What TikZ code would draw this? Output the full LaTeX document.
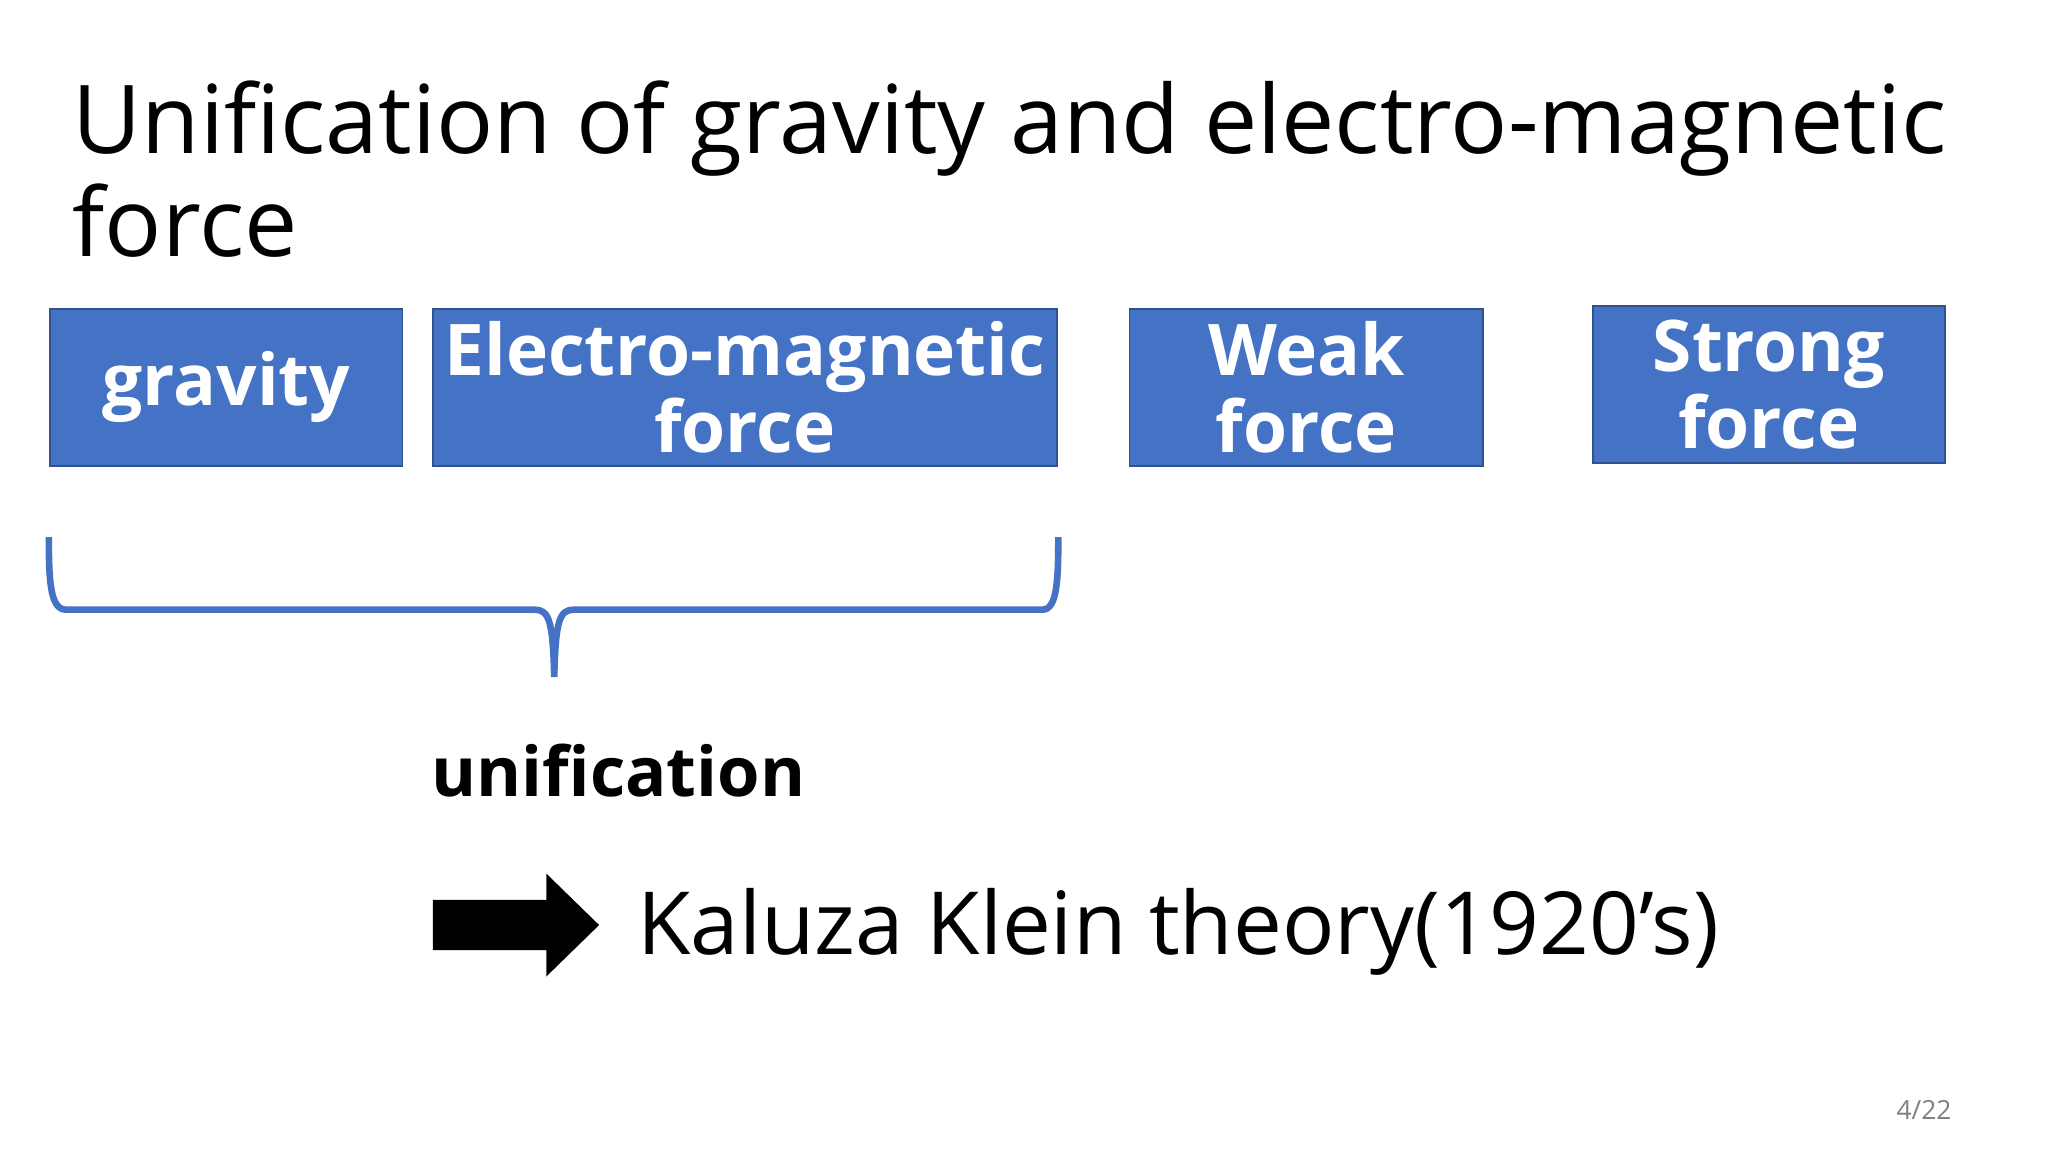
\documentclass[tikz,border=0pt]{standalone}
\usepackage{fontspec}
\setmainfont{Open Sans}
\definecolor{boxblue}{HTML}{4472C4}
\definecolor{boxedge}{HTML}{2F528F}
\begin{document}
\begin{tikzpicture}[x=0.5pt,y=-0.5pt,
  fbox/.style={draw=boxedge,line width=0.6pt,fill=boxblue,text=white,font=\fontsize{27}{29}\selectfont\bfseries,align=center,inner sep=0pt}]
\useasboundingbox[fill=white] (0,0) rectangle (1552,873);
\node[anchor=west,align=left,font=\fontsize{36}{39}\selectfont] (title) at (48,128) {Unification of gravity and electro-magnetic\\force};
\path[fbox] (38,234) rectangle (305,353) node[midway] (g) {gravity};
\path[fbox] (328,234) rectangle (801,353) node[midway] (em) {Electro-magnetic\\force};
\path[fbox] (856,234) rectangle (1124,353) node[midway] (w) {Weak\\force};
\path[fbox] (1207,232) rectangle (1474,351) node[midway] (s) {Strong\\force};
\draw[boxblue,line width=2.5pt] (37,407) .. controls (37,440) and (38,462) .. (50,462) -- (405,462)
  .. controls (416,462) and (419,470) .. (420,513)
  .. controls (421,470) and (424,462) .. (435,462) -- (790,462)
  .. controls (801,462) and (802,440) .. (802,407);
\node[anchor=west,font=\fontsize{26}{28}\selectfont\bfseries] (u) at (320,584) {unification};
\fill (328,682) -- (414,682) -- (414,662) -- (454,701) -- (414,740) -- (414,720) -- (328,720) -- cycle;
\node[anchor=west,font=\fontsize{33}{36}\selectfont] (k) at (476,706) {Kaluza Klein theory(1920’s)};
\node[text=gray,font=\fontsize{10}{12}\selectfont] (p) at (1458,841) {4/22};
\end{tikzpicture}
\end{document}
